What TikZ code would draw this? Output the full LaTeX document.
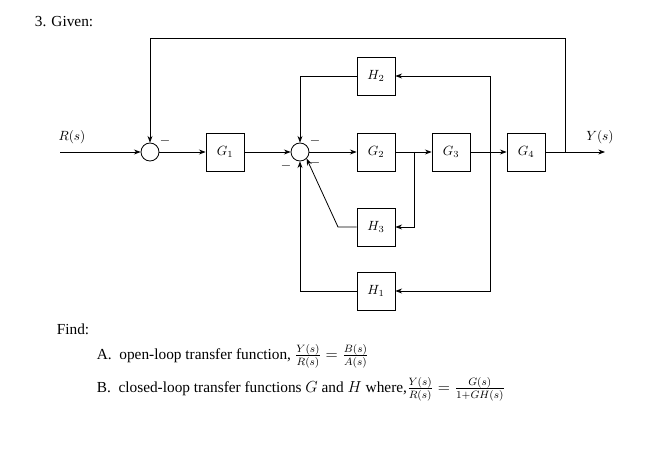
\documentclass[tikz,border=0pt]{standalone}
\usepackage{fontspec}
\setmainfont{Liberation Serif}
\usetikzlibrary{arrows.meta}
\begin{document}
\begin{tikzpicture}[x=0.75pt,y=-0.75pt,
 blk/.style={draw,minimum width=28.5pt,minimum height=28.5pt,inner sep=0pt,font=\normalsize},
 sum/.style={draw,circle,minimum size=13.5pt,inner sep=0pt},
 ar/.style={-{Stealth[length=5pt]}},
 lbl/.style={font=\normalsize},
 txt/.style={anchor=west,font=\fontsize{11.5}{14}\selectfont},
 every path/.style={line width=0.6pt}]
\useasboundingbox (0,0) rectangle (661,474);
\node[txt] (t1) at (30,22) {3. Given:};
\node[sum] (s1) at (150,152) {};
\node[sum] (s2) at (300,152) {};
\node[blk] (g1) at (225,152) {$G_1$};
\node[blk] (g2) at (376,152) {$G_2$};
\node[blk] (g3) at (451,152) {$G_3$};
\node[blk] (g4) at (526,152) {$G_4$};
\node[blk] (h2) at (376,76) {$H_2$};
\node[blk] (h3) at (376,227) {$H_3$};
\node[blk] (h1) at (376,291) {$H_1$};
\coordinate (in) at (60,152);
\coordinate (out) at (605,152);
\coordinate (p1) at (565,152);
\coordinate (p2) at (490,152);
\coordinate (p3) at (414,152);
\node[lbl] (r) at (72,137) {$R(s)$};
\node[lbl] (y) at (600,137) {$Y(s)$};
\draw[ar] (in) -- (s1);
\draw[ar] (s1) -- (g1);
\draw[ar] (g1) -- (s2);
\draw[ar] (s2) -- (g2);
\draw[ar] (g2) -- (g3);
\draw[ar] (g3) -- (g4);
\draw[ar] (g4) -- (out);
\draw[ar] (p1) |- (150,38) -- (s1);
\draw[ar] (p2) |- (h2);
\draw[ar] (p2) |- (h1);
\draw[ar] (p3) |- (h3);
\draw[ar] (h2) -| (s2);
\draw[ar] (h1) -| (s2);
\draw[ar] (h3.west) -- (338,227) -- (s2.south east);
\node[lbl] (m1) at (165,141) {$-$};
\node[lbl] (m2) at (315,141) {$-$};
\node[lbl] (m3) at (286,166) {$-$};
\node[lbl] (m4) at (315,163) {$-$};
\node[txt] (f) at (52,329) {Find:};
\node[txt] (a) at (92,356) {A.\ \ open-loop transfer function, $\frac{Y(s)}{R(s)}=\frac{B(s)}{A(s)}$};
\node[txt] (b) at (92,389) {B.\ \ closed-loop transfer functions $G$ and $H$ where,$\frac{Y(s)}{R(s)}=\frac{G(s)}{1{+}GH(s)}$};
\end{tikzpicture}
\end{document}
